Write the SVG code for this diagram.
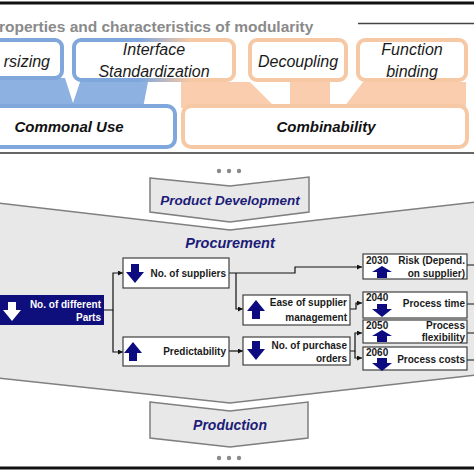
<svg xmlns="http://www.w3.org/2000/svg" width="474" height="474" viewBox="0 0 474 474">
<defs>
<linearGradient id="gIF" gradientUnits="userSpaceOnUse" x1="140" y1="0" x2="190" y2="0">
<stop offset="0" stop-color="#7fa7db"/><stop offset="1" stop-color="#f7c8a4"/>
</linearGradient>
<marker id="ah" viewBox="0 0 6 6" refX="6" refY="3" markerWidth="5" markerHeight="5" orient="auto" markerUnits="userSpaceOnUse">
<path d="M0,0 L6,3 L0,6 Z" fill="#111"/>
</marker>
<path id="dn" d="M-4,0 H4 V8 H9 L0,19 L-9,8 H-4 Z"/>
<path id="up" d="M-4,19 H4 V11 H9 L0,0 L-9,11 H-4 Z"/>
<path id="wdn" d="M-5,0 H5 V5 H10 L0,13 L-10,5 H-5 Z"/>
<path id="wup" d="M-5,12 H5 V6 H10 L0,0 L-10,6 H-5 Z"/>
</defs>
<style>
.it{font-family:"Liberation Sans",Arial,sans-serif;font-style:italic;font-size:16px;fill:#1a1a1a;text-anchor:middle}
.bi{font-family:"Liberation Sans",Arial,sans-serif;font-style:italic;font-weight:bold;font-size:15px;fill:#111;text-anchor:middle}
.nv{font-family:"Liberation Sans",Arial,sans-serif;font-style:italic;font-weight:bold;fill:#1c1c78;text-anchor:middle}
.sm{font-family:"Liberation Sans",Arial,sans-serif;font-weight:bold;font-size:10px;fill:#1a1a1a}
.r{text-anchor:end}
.blu{fill:#fff;stroke:#7fa7db;stroke-width:4}
.org{fill:#fff;stroke:#f7c8a4;stroke-width:4}
.chev{fill:#e8e8e8;stroke:#7f7f7f;stroke-width:1.5}
.nd{fill:#fff;stroke:#404040;stroke-width:1.2}
.ar{fill:#0c0c80}
.cn{fill:none;stroke:#111;stroke-width:1.2}
.dot{fill:#8a8a8a}
</style>
<rect width="474" height="474" fill="#fff"/>
<line x1="0" y1="3" x2="474" y2="3" stroke="#111" stroke-width="3"/>
<line x1="0" y1="468" x2="474" y2="468" stroke="#111" stroke-width="3"/>
<text x="-1" y="32" font-family="'Liberation Sans',Arial,sans-serif" font-weight="bold" font-size="15.5px" fill="#8a8a8a">roperties and characteristics of modularity</text>
<line x1="358" y1="23.5" x2="474" y2="23.5" stroke="#444" stroke-width="1.5"/>
<g id="funnels">
<path d="M-5,78 L65,78 L73,103 L80,82 L148,82 L143,108 L-5,108 Z" fill="#8db2e2"/>
<path d="M181,82 L250,82 L274,106 L290,106 L290,82 L330,82 L330,106 L345,106 L363,82 L466,82 L466,108 L181,108 Z" fill="#f9cdad"/>
</g>
<g id="n-rsizing"><rect class="blu" x="-12" y="40" width="74" height="38" rx="7"/><text class="it" x="50" y="67" style="text-anchor:end">rsizing</text></g>
<g id="n-interface"><rect x="74" y="40" width="160" height="40" rx="7" fill="#fff" stroke="url(#gIF)" stroke-width="4"/><text class="it" x="154" y="55">Interface</text><text class="it" x="154" y="77">Standardization</text></g>
<g id="n-decoupling"><rect class="org" x="250" y="40" width="96" height="40" rx="7"/><text class="it" x="298" y="67">Decoupling</text></g>
<g id="n-function"><rect class="org" x="358" y="40" width="108" height="40" rx="7"/><text class="it" x="412" y="55">Function</text><text class="it" x="412" y="77">binding</text></g>
<g id="n-commonal"><rect class="blu" x="-12" y="106" width="187" height="41" rx="8"/><text class="bi" x="69" y="132">Commonal Use</text></g>
<g id="n-combinability"><rect class="org" x="183" y="106" width="284" height="41" rx="8"/><text class="bi" x="326" y="132">Combinability</text></g>
<line x1="0" y1="153" x2="474" y2="153" stroke="#666" stroke-width="2"/>
<g id="dots-top"><circle class="dot" cx="219" cy="171" r="2.2"/><circle class="dot" cx="229" cy="171" r="2.2"/><circle class="dot" cx="239" cy="171" r="2.2"/></g>
<g id="n-procurement"><path class="chev" d="M-2,203 L230,230 L476,202 L476,375 L230,403 L-2,378 Z"/><text class="nv" x="230" y="248" font-size="14.5px">Procurement</text></g>
<g id="n-productdev"><path class="chev" d="M150,178 L230,186 L309,177 L309,212 L230,222 L150,212 Z"/><text class="nv" x="230" y="205" font-size="13.5px">Product Development</text></g>
<g id="n-production"><path class="chev" d="M150,402 L230,411 L308,402 L308,438 L230,447 L150,438 Z"/><text class="nv" x="230" y="430" font-size="14px">Production</text></g>
<g id="dots-bottom"><circle class="dot" cx="219" cy="458" r="2.2"/><circle class="dot" cx="229" cy="458" r="2.2"/><circle class="dot" cx="239" cy="458" r="2.2"/></g>
<g id="connectors">
<path class="cn" d="M104,310 H113 V273 H123" marker-end="url(#ah)"/>
<path class="cn" d="M113,310 V352 H123" marker-end="url(#ah)"/>
<path class="cn" d="M229,273 H295 V267 H362" marker-end="url(#ah)"/>
<path class="cn" d="M236,273 V309 H243" marker-end="url(#ah)"/>
<path class="cn" d="M229,351 H243" marker-end="url(#ah)"/>
<path class="cn" d="M350,309 H356 V303 H362" marker-end="url(#ah)"/>
<path class="cn" d="M350,351 H355 V333 H362" marker-end="url(#ah)"/>
<path class="cn" d="M355,351 V358 H362" marker-end="url(#ah)"/>
<path class="cn" d="M467,265 H474 M467,304 H474 M467,333 H474 M467,360 H474"/>
</g>
<g id="n-parts"><rect x="-2" y="295" width="106" height="30" fill="#0e0e7c"/><use href="#dn" x="12" y="302" fill="#fff"/><text class="sm r" x="101" y="308" style="fill:#fff">No. of different</text><text class="sm r" x="101" y="321" style="fill:#fff">Parts</text></g>
<g id="n-suppliers"><rect class="nd" x="123" y="258" width="106" height="30"/><use class="ar" href="#dn" x="135" y="264"/><text class="sm r" x="226" y="277">No. of suppliers</text></g>
<g id="n-predictability"><rect class="nd" x="123" y="337" width="106" height="29"/><use class="ar" href="#up" x="133" y="342"/><text class="sm r" x="226" y="355">Predictability</text></g>
<g id="n-ease"><rect class="nd" x="243" y="295" width="107" height="30"/><use class="ar" href="#up" x="256" y="300"/><text class="sm r" x="347" y="306">Ease of supplier</text><text class="sm r" x="347" y="321">management</text></g>
<g id="n-purchase"><rect class="nd" x="243" y="337" width="107" height="28"/><use class="ar" href="#dn" x="256" y="341"/><text class="sm r" x="347" y="349">No. of purchase</text><text class="sm r" x="347" y="362">orders</text></g>
<g id="n-risk"><rect class="nd" x="363" y="254" width="104" height="25"/><text class="sm" x="366" y="264">2030</text><use class="ar" href="#wup" x="382" y="266"/><text class="sm r" x="465" y="264">Risk (Depend.</text><text class="sm r" x="465" y="277">on supplier)</text></g>
<g id="n-ptime"><rect class="nd" x="363" y="292" width="104" height="26"/><text class="sm" x="366" y="301">2040</text><use class="ar" href="#wdn" x="382" y="304"/><text class="sm r" x="465" y="307">Process time</text></g>
<g id="n-pflex"><rect class="nd" x="363" y="320" width="104" height="23"/><text class="sm" x="366" y="329">2050</text><use class="ar" href="#wup" x="382" y="330"/><text class="sm r" x="465" y="329">Process</text><text class="sm r" x="465" y="341">flexibility</text></g>
<g id="n-pcosts"><rect class="nd" x="363" y="347" width="104" height="23"/><text class="sm" x="366" y="356">2060</text><use class="ar" href="#wdn" x="382" y="358"/><text class="sm r" x="465" y="363">Process costs</text></g>
</svg>
